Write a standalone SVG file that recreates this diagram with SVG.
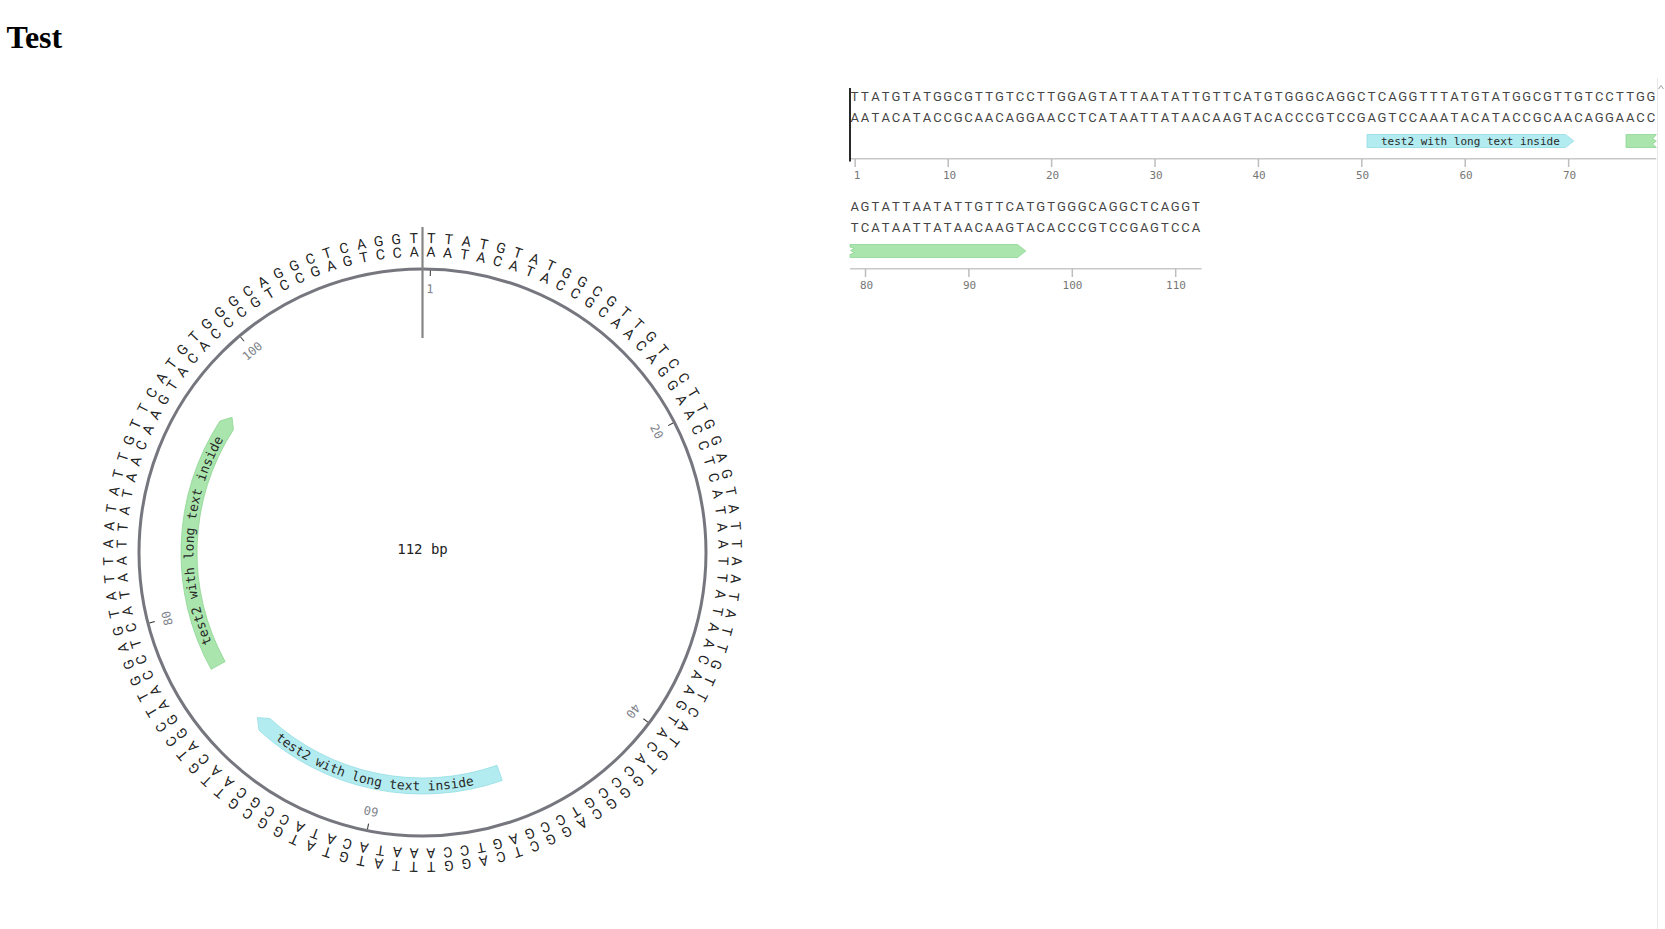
<svg xmlns="http://www.w3.org/2000/svg" width="1665" height="929" viewBox="0 0 1665 929">
<style>
.title{font-family:"Liberation Serif","Times New Roman",serif;font-weight:bold;font-size:32px;fill:#000}
.mono{font-family:"DejaVu Sans Mono","Liberation Mono",monospace}
.ring text{font-family:Roboto,"Noto Sans",sans-serif;font-size:14px;fill:#222;text-anchor:middle}
.ring .o{}
.ctick line{stroke:#333;stroke-width:1}
.ctick text{font-family:"DejaVu Sans Mono","Liberation Mono",monospace;font-size:12px;fill:#80838b;text-anchor:middle}
.seq{font-family:Roboto,"Noto Sans",sans-serif;font-size:13px;fill:#444;text-anchor:middle}
.axis{stroke:#c8c8c8;stroke-width:1.5;fill:none}
.ltick{stroke:#bdbdbd;stroke-width:1.5}
.llab{font-family:"DejaVu Sans Mono","Liberation Mono",monospace;font-size:11px;fill:#777;text-anchor:middle}
.cyan{fill:#b3ecf0;stroke:#93dde3;stroke-width:0.8}
.green{fill:#a9e5ac;stroke:#8ed493;stroke-width:0.8}
.flab{font-family:"DejaVu Sans Mono","Liberation Mono",monospace;fill:#2a2a2a;text-anchor:middle}
</style>
<defs>
<clipPath id="row1clip"><rect x="840" y="80" width="816.5" height="110"/></clipPath>
<path id="greenTextPath" d="M222.08,663.28 A229,229 0 0 1 235.74,419.97"/>
<path id="cyanTextPath" d="M254.21,720.79 A238,238 0 0 0 501.13,777.14"/>
</defs>

<g id="title"><text class="title" x="6.5" y="48.3">Test</text></g>

<g id="circular-view">
<circle id="backbone" cx="422.5" cy="552.5" r="283.5" fill="none" stroke="#76767f" stroke-width="3"/>
<line id="index-line" x1="422.5" y1="227" x2="422.5" y2="338" stroke="#858585" stroke-width="2.2"/>
<text id="bp-label" class="mono" x="422.5" y="554" font-size="14" fill="#222" text-anchor="middle">112 bp</text>

<g id="circ-ticks" class="ctick" transform="translate(422.5 552.5)">
<g transform="rotate(1.607)"><line x1="0" y1="-282" x2="0" y2="-276.5"/><text y="-259.5">1</text></g>
<g transform="rotate(62.679)"><line x1="0" y1="-282" x2="0" y2="-276.5"/><text y="-259.5">20</text></g>
<g transform="rotate(126.964)"><line x1="0" y1="-282" x2="0" y2="-276.5"/><text y="-259.5">40</text></g>
<g transform="rotate(191.25)"><line x1="0" y1="-282" x2="0" y2="-276.5"/><text y="-259.5">60</text></g>
<g transform="rotate(255.536)"><line x1="0" y1="-282" x2="0" y2="-276.5"/><text y="-259.5">80</text></g>
<g transform="rotate(319.821)"><line x1="0" y1="-282" x2="0" y2="-276.5"/><text y="-259.5">100</text></g>
</g>

<g id="circ-feature-green">
<path class="green" d="M211.14,669.32 A241.5,241.5 0 0 1 219.96,420.97 L232.07,417.37 L233.38,429.68 A225.5,225.5 0 0 0 225.14,661.58 Z"/>
<text class="flab" font-size="13"><textPath href="#greenTextPath" startOffset="50%">test2 with long text inside</textPath></text>
</g>
<g id="circ-feature-cyan">
<path class="cyan" d="M502.28,780.44 A241.5,241.5 0 0 1 259.03,730.27 L257.39,717.61 L269.86,718.49 A225.5,225.5 0 0 0 497.0,765.34 Z"/>
<text class="flab" font-size="13"><textPath href="#cyanTextPath" startOffset="50%">test2 with long text inside</textPath></text>
</g>

<g id="seq-ring" class="ring" transform="translate(422.5 552.5)">
<g transform="rotate(1.607)"><text y="-309.5">T</text><text y="-296">A</text></g>
<g transform="rotate(4.821)"><text y="-309.5">T</text><text y="-296">A</text></g>
<g transform="rotate(8.036)"><text y="-309.5">A</text><text y="-296">T</text></g>
<g transform="rotate(11.25)"><text y="-309.5">T</text><text y="-296">A</text></g>
<g transform="rotate(14.464)"><text y="-309.5">G</text><text y="-296">C</text></g>
<g transform="rotate(17.679)"><text y="-309.5">T</text><text y="-296">A</text></g>
<g transform="rotate(20.893)"><text y="-309.5">A</text><text y="-296">T</text></g>
<g transform="rotate(24.107)"><text y="-309.5">T</text><text y="-296">A</text></g>
<g transform="rotate(27.321)"><text y="-309.5">G</text><text y="-296">C</text></g>
<g transform="rotate(30.536)"><text y="-309.5">G</text><text y="-296">C</text></g>
<g transform="rotate(33.75)"><text y="-309.5">C</text><text y="-296">G</text></g>
<g transform="rotate(36.964)"><text y="-309.5">G</text><text y="-296">C</text></g>
<g transform="rotate(40.179)"><text y="-309.5">T</text><text y="-296">A</text></g>
<g transform="rotate(43.393)"><text y="-309.5">T</text><text y="-296">A</text></g>
<g transform="rotate(46.607)"><text y="-309.5">G</text><text y="-296">C</text></g>
<g transform="rotate(49.821)"><text y="-309.5">T</text><text y="-296">A</text></g>
<g transform="rotate(53.036)"><text y="-309.5">C</text><text y="-296">G</text></g>
<g transform="rotate(56.25)"><text y="-309.5">C</text><text y="-296">G</text></g>
<g transform="rotate(59.464)"><text y="-309.5">T</text><text y="-296">A</text></g>
<g transform="rotate(62.679)"><text y="-309.5">T</text><text y="-296">A</text></g>
<g transform="rotate(65.893)"><text y="-309.5">G</text><text y="-296">C</text></g>
<g transform="rotate(69.107)"><text y="-309.5">G</text><text y="-296">C</text></g>
<g transform="rotate(72.321)"><text y="-309.5">A</text><text y="-296">T</text></g>
<g transform="rotate(75.536)"><text y="-309.5">G</text><text y="-296">C</text></g>
<g transform="rotate(78.75)"><text y="-309.5">T</text><text y="-296">A</text></g>
<g transform="rotate(81.964)"><text y="-309.5">A</text><text y="-296">T</text></g>
<g transform="rotate(85.179)"><text y="-309.5">T</text><text y="-296">A</text></g>
<g transform="rotate(88.393)"><text y="-309.5">T</text><text y="-296">A</text></g>
<g transform="rotate(91.607)"><text y="-309.5">A</text><text y="-296">T</text></g>
<g transform="rotate(94.821)"><text y="-309.5">A</text><text y="-296">T</text></g>
<g transform="rotate(98.036)"><text y="-309.5">T</text><text y="-296">A</text></g>
<g transform="rotate(101.25)"><text y="-309.5">A</text><text y="-296">T</text></g>
<g transform="rotate(104.464)"><text y="-309.5">T</text><text y="-296">A</text></g>
<g transform="rotate(107.679)"><text y="-309.5">T</text><text y="-296">A</text></g>
<g transform="rotate(110.893)"><text y="-309.5">G</text><text y="-296">C</text></g>
<g transform="rotate(114.107)"><text y="-309.5">T</text><text y="-296">A</text></g>
<g transform="rotate(117.321)"><text y="-309.5">T</text><text y="-296">A</text></g>
<g transform="rotate(120.536)"><text y="-309.5">C</text><text y="-296">G</text></g>
<g transform="rotate(123.75)"><text y="-309.5">A</text><text y="-296">T</text></g>
<g transform="rotate(126.964)"><text y="-309.5">T</text><text y="-296">A</text></g>
<g transform="rotate(130.179)"><text y="-309.5">G</text><text y="-296">C</text></g>
<g transform="rotate(133.393)"><text y="-309.5">T</text><text y="-296">A</text></g>
<g transform="rotate(136.607)"><text y="-309.5">G</text><text y="-296">C</text></g>
<g transform="rotate(139.821)"><text y="-309.5">G</text><text y="-296">C</text></g>
<g transform="rotate(143.036)"><text y="-309.5">G</text><text y="-296">C</text></g>
<g transform="rotate(146.25)"><text y="-309.5">C</text><text y="-296">G</text></g>
<g transform="rotate(149.464)"><text y="-309.5">A</text><text y="-296">T</text></g>
<g transform="rotate(152.679)"><text y="-309.5">G</text><text y="-296">C</text></g>
<g transform="rotate(155.893)"><text y="-309.5">G</text><text y="-296">C</text></g>
<g transform="rotate(159.107)"><text y="-309.5">C</text><text y="-296">G</text></g>
<g transform="rotate(162.321)"><text y="-309.5">T</text><text y="-296">A</text></g>
<g transform="rotate(165.536)"><text y="-309.5">C</text><text y="-296">G</text></g>
<g transform="rotate(168.75)"><text y="-309.5">A</text><text y="-296">T</text></g>
<g transform="rotate(171.964)"><text y="-309.5">G</text><text y="-296">C</text></g>
<g transform="rotate(175.179)"><text y="-309.5">G</text><text y="-296">C</text></g>
<g transform="rotate(178.393)"><text y="-309.5">T</text><text y="-296">A</text></g>
<g transform="rotate(181.607)"><text y="-309.5">T</text><text y="-296">A</text></g>
<g transform="rotate(184.821)"><text y="-309.5">T</text><text y="-296">A</text></g>
<g transform="rotate(188.036)"><text y="-309.5">A</text><text y="-296">T</text></g>
<g transform="rotate(191.25)"><text y="-309.5">T</text><text y="-296">A</text></g>
<g transform="rotate(194.464)"><text y="-309.5">G</text><text y="-296">C</text></g>
<g transform="rotate(197.679)"><text y="-309.5">T</text><text y="-296">A</text></g>
<g transform="rotate(200.893)"><text y="-309.5">A</text><text y="-296">T</text></g>
<g transform="rotate(204.107)"><text y="-309.5">T</text><text y="-296">A</text></g>
<g transform="rotate(207.321)"><text y="-309.5">G</text><text y="-296">C</text></g>
<g transform="rotate(210.536)"><text y="-309.5">G</text><text y="-296">C</text></g>
<g transform="rotate(213.75)"><text y="-309.5">C</text><text y="-296">G</text></g>
<g transform="rotate(216.964)"><text y="-309.5">G</text><text y="-296">C</text></g>
<g transform="rotate(220.179)"><text y="-309.5">T</text><text y="-296">A</text></g>
<g transform="rotate(223.393)"><text y="-309.5">T</text><text y="-296">A</text></g>
<g transform="rotate(226.607)"><text y="-309.5">G</text><text y="-296">C</text></g>
<g transform="rotate(229.821)"><text y="-309.5">T</text><text y="-296">A</text></g>
<g transform="rotate(233.036)"><text y="-309.5">C</text><text y="-296">G</text></g>
<g transform="rotate(236.25)"><text y="-309.5">C</text><text y="-296">G</text></g>
<g transform="rotate(239.464)"><text y="-309.5">T</text><text y="-296">A</text></g>
<g transform="rotate(242.679)"><text y="-309.5">T</text><text y="-296">A</text></g>
<g transform="rotate(245.893)"><text y="-309.5">G</text><text y="-296">C</text></g>
<g transform="rotate(249.107)"><text y="-309.5">G</text><text y="-296">C</text></g>
<g transform="rotate(252.321)"><text y="-309.5">A</text><text y="-296">T</text></g>
<g transform="rotate(255.536)"><text y="-309.5">G</text><text y="-296">C</text></g>
<g transform="rotate(258.75)"><text y="-309.5">T</text><text y="-296">A</text></g>
<g transform="rotate(261.964)"><text y="-309.5">A</text><text y="-296">T</text></g>
<g transform="rotate(265.179)"><text y="-309.5">T</text><text y="-296">A</text></g>
<g transform="rotate(268.393)"><text y="-309.5">T</text><text y="-296">A</text></g>
<g transform="rotate(271.607)"><text y="-309.5">A</text><text y="-296">T</text></g>
<g transform="rotate(274.821)"><text y="-309.5">A</text><text y="-296">T</text></g>
<g transform="rotate(278.036)"><text y="-309.5">T</text><text y="-296">A</text></g>
<g transform="rotate(281.25)"><text y="-309.5">A</text><text y="-296">T</text></g>
<g transform="rotate(284.464)"><text y="-309.5">T</text><text y="-296">A</text></g>
<g transform="rotate(287.679)"><text y="-309.5">T</text><text y="-296">A</text></g>
<g transform="rotate(290.893)"><text y="-309.5">G</text><text y="-296">C</text></g>
<g transform="rotate(294.107)"><text y="-309.5">T</text><text y="-296">A</text></g>
<g transform="rotate(297.321)"><text y="-309.5">T</text><text y="-296">A</text></g>
<g transform="rotate(300.536)"><text y="-309.5">C</text><text y="-296">G</text></g>
<g transform="rotate(303.75)"><text y="-309.5">A</text><text y="-296">T</text></g>
<g transform="rotate(306.964)"><text y="-309.5">T</text><text y="-296">A</text></g>
<g transform="rotate(310.179)"><text y="-309.5">G</text><text y="-296">C</text></g>
<g transform="rotate(313.393)"><text y="-309.5">T</text><text y="-296">A</text></g>
<g transform="rotate(316.607)"><text y="-309.5">G</text><text y="-296">C</text></g>
<g transform="rotate(319.821)"><text y="-309.5">G</text><text y="-296">C</text></g>
<g transform="rotate(323.036)"><text y="-309.5">G</text><text y="-296">C</text></g>
<g transform="rotate(326.25)"><text y="-309.5">C</text><text y="-296">G</text></g>
<g transform="rotate(329.464)"><text y="-309.5">A</text><text y="-296">T</text></g>
<g transform="rotate(332.679)"><text y="-309.5">G</text><text y="-296">C</text></g>
<g transform="rotate(335.893)"><text y="-309.5">G</text><text y="-296">C</text></g>
<g transform="rotate(339.107)"><text y="-309.5">C</text><text y="-296">G</text></g>
<g transform="rotate(342.321)"><text y="-309.5">T</text><text y="-296">A</text></g>
<g transform="rotate(345.536)"><text y="-309.5">C</text><text y="-296">G</text></g>
<g transform="rotate(348.75)"><text y="-309.5">A</text><text y="-296">T</text></g>
<g transform="rotate(351.964)"><text y="-309.5">G</text><text y="-296">C</text></g>
<g transform="rotate(355.179)"><text y="-309.5">G</text><text y="-296">C</text></g>
<g transform="rotate(358.393)"><text y="-309.5">T</text><text y="-296">A</text></g>
</g>
</g>

<g id="linear-view">
<line id="scroll-track" x1="1657.5" y1="78" x2="1657.5" y2="929" stroke="#e8e8e8" stroke-width="1"/>
<path id="scroll-arrow" d="M1658.5,89 L1661,85.5 L1663.5,89" fill="none" stroke="#a0a0a0" stroke-width="1"/>

<g id="linear-row-1" clip-path="url(#row1clip)">
<text class="seq" y="101" x="854.7 865 875.4 885.7 896 906.4 916.7 927.1 937.4 947.7 958.1 968.4 978.8 989.1 999.4 1009.8 1020.1 1030.5 1040.8 1051.1 1061.5 1071.8 1082.2 1092.5 1102.8 1113.2 1123.5 1133.9 1144.2 1154.5 1164.9 1175.2 1185.6 1195.9 1206.2 1216.6 1226.9 1237.3 1247.6 1257.9 1268.3 1278.6 1289 1299.3 1309.6 1320 1330.3 1340.7 1351 1361.3 1371.7 1382 1392.4 1402.7 1413 1423.4 1433.7 1444.1 1454.4 1464.7 1475.1 1485.4 1495.8 1506.1 1516.4 1526.8 1537.1 1547.5 1557.8 1568.1 1578.5 1588.8 1599.2 1609.5 1619.8 1630.2 1640.5 1650.9">TTATGTATGGCGTTGTCCTTGGAGTATTAATATTGTTCATGTGGGCAGGCTCAGGTTTATGTATGGCGTTGTCCTTGG</text>
<text class="seq" y="121.7" x="854.7 865 875.4 885.7 896 906.4 916.7 927.1 937.4 947.7 958.1 968.4 978.8 989.1 999.4 1009.8 1020.1 1030.5 1040.8 1051.1 1061.5 1071.8 1082.2 1092.5 1102.8 1113.2 1123.5 1133.9 1144.2 1154.5 1164.9 1175.2 1185.6 1195.9 1206.2 1216.6 1226.9 1237.3 1247.6 1257.9 1268.3 1278.6 1289 1299.3 1309.6 1320 1330.3 1340.7 1351 1361.3 1371.7 1382 1392.4 1402.7 1413 1423.4 1433.7 1444.1 1454.4 1464.7 1475.1 1485.4 1495.8 1506.1 1516.4 1526.8 1537.1 1547.5 1557.8 1568.1 1578.5 1588.8 1599.2 1609.5 1619.8 1630.2 1640.5 1650.9">AATACATACCGCAACAGGAACCTCATAATTATAACAAGTACACCCGTCCGAGTCCAAATACATACCGCAACAGGAACC</text>
<g id="lin-feature-cyan">
<polygon class="cyan" points="1367,134.5 1565.5,134.5 1573.8,141 1565.5,147.5 1367,147.5"/>
<text class="flab" x="1470.4" y="145" font-size="11">test2 with long text inside</text>
</g>
<g id="lin-feature-green-1">
<polygon class="green" points="1626,134.5 1656.5,134.5 1652.5,139 1656.5,141 1652.5,144 1656.5,147.5 1626,147.5"/>
</g>
<line class="axis" x1="850" y1="158.7" x2="1656.5" y2="158.7"/>
<g id="row1-ticks">
<line class="ltick" x1="855.17" y1="158.7" x2="855.17" y2="167"/>
<line class="ltick" x1="948.23" y1="158.7" x2="948.23" y2="167"/>
<line class="ltick" x1="1051.63" y1="158.7" x2="1051.63" y2="167"/>
<line class="ltick" x1="1155.03" y1="158.7" x2="1155.03" y2="167"/>
<line class="ltick" x1="1258.43" y1="158.7" x2="1258.43" y2="167"/>
<line class="ltick" x1="1361.83" y1="158.7" x2="1361.83" y2="167"/>
<line class="ltick" x1="1465.23" y1="158.7" x2="1465.23" y2="167"/>
<line class="ltick" x1="1568.63" y1="158.7" x2="1568.63" y2="167"/>
<text class="llab" x="857" y="179">1</text>
<text class="llab" x="949.5" y="179">10</text>
<text class="llab" x="1052.5" y="179">20</text>
<text class="llab" x="1156" y="179">30</text>
<text class="llab" x="1259" y="179">40</text>
<text class="llab" x="1362.5" y="179">50</text>
<text class="llab" x="1466" y="179">60</text>
<text class="llab" x="1569.5" y="179">70</text>
</g>
</g>
<line id="lin-cursor" x1="850" y1="88" x2="850" y2="161.5" stroke="#111" stroke-width="1.8"/>

<g id="linear-row-2">
<text class="seq" y="211" x="854.7 865 875.4 885.7 896 906.4 916.7 927.1 937.4 947.7 958.1 968.4 978.8 989.1 999.4 1009.8 1020.1 1030.5 1040.8 1051.1 1061.5 1071.8 1082.2 1092.5 1102.8 1113.2 1123.5 1133.9 1144.2 1154.5 1164.9 1175.2 1185.6 1195.9">AGTATTAATATTGTTCATGTGGGCAGGCTCAGGT</text>
<text class="seq" y="231.7" x="854.7 865 875.4 885.7 896 906.4 916.7 927.1 937.4 947.7 958.1 968.4 978.8 989.1 999.4 1009.8 1020.1 1030.5 1040.8 1051.1 1061.5 1071.8 1082.2 1092.5 1102.8 1113.2 1123.5 1133.9 1144.2 1154.5 1164.9 1175.2 1185.6 1195.9">TCATAATTATAACAAGTACACCCGTCCGAGTCCA</text>
<g id="lin-feature-green-2">
<polygon class="green" points="850,244.5 1017.5,244.5 1025.8,251 1017.5,257.5 850,257.5 850,254.5 854.5,252.5 850.5,250.5 854.5,248.5 850,247"/>
</g>
<line class="axis" x1="850" y1="268.7" x2="1201.6" y2="268.7"/>
<g id="row2-ticks">
<line class="ltick" x1="865.51" y1="268.7" x2="865.51" y2="277"/>
<line class="ltick" x1="968.91" y1="268.7" x2="968.91" y2="277"/>
<line class="ltick" x1="1072.31" y1="268.7" x2="1072.31" y2="277"/>
<line class="ltick" x1="1175.71" y1="268.7" x2="1175.71" y2="277"/>
<text class="llab" x="866.5" y="289">80</text>
<text class="llab" x="969.5" y="289">90</text>
<text class="llab" x="1072.5" y="289">100</text>
<text class="llab" x="1176" y="289">110</text>
</g>
</g>
</g>
</svg>
